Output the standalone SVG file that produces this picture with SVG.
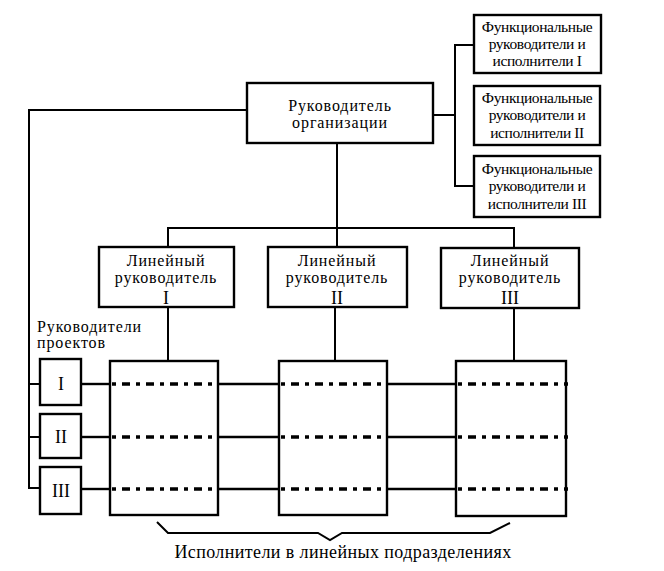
<svg xmlns="http://www.w3.org/2000/svg" width="664" height="571" viewBox="0 0 664 571">
<style>
  .box { fill: #fff; stroke: #000; stroke-width: 2.4; }
  .ln { fill: none; stroke: #000; stroke-width: 2; }
  .row { fill: none; stroke: #000; stroke-width: 2.4; }
  .dd { fill: none; stroke: #000; stroke-width: 3.5; stroke-dasharray: 4 6 8 6; }
  text { font-family: "Liberation Serif", "Times New Roman", serif; font-size: 16px; fill: #000; }
  .c { text-anchor: middle; }
  .f { font-size: 15.5px; letter-spacing: -0.4px; }
  .w { letter-spacing: 0.9px; }
  .n { font-size: 18px; }
  .b { font-size: 18px; letter-spacing: 0.4px; }
</style>
<rect width="664" height="571" fill="#fff"/>

<g id="connectors">
  <polyline class="ln" points="247,110 29,110 29,488 40,488"/>
  <line class="ln" x1="29" y1="384" x2="40" y2="384"/>
  <line class="ln" x1="29" y1="437" x2="40" y2="437"/>
  <polyline class="ln" points="433,115 455,115"/>
  <polyline class="ln" points="474,45 455,45 455,186 474,186"/>
  <line class="ln" x1="337" y1="143" x2="337" y2="247"/>
  <polyline class="ln" points="168,247 168,228 514,228 514,248"/>
  <line class="ln" x1="168" y1="307" x2="168" y2="361"/>
  <line class="ln" x1="335" y1="307" x2="335" y2="361"/>
  <line class="ln" x1="514" y1="308" x2="514" y2="361"/>
  <g class="row">
    <line x1="81" y1="384" x2="110" y2="384"/>
    <line x1="218" y1="384" x2="279" y2="384"/>
    <line x1="387" y1="384" x2="456" y2="384"/>
    <line x1="81" y1="437" x2="110" y2="437"/>
    <line x1="218" y1="437" x2="279" y2="437"/>
    <line x1="387" y1="437" x2="456" y2="437"/>
    <line x1="81" y1="489" x2="110" y2="489"/>
    <line x1="218" y1="489" x2="279" y2="489"/>
    <line x1="387" y1="489" x2="456" y2="489"/>
  </g>
  <polyline class="ln" points="157,522 168,533 318,533 330,540 342,533 490,533 510,523"/>
</g>

<g id="org-head">
  <rect class="box" x="247" y="83" width="186" height="60"/>
  <text class="c w" x="340" y="111">Руководитель</text>
  <text class="c w" x="340" y="128">организации</text>
</g>

<g id="func-1">
  <rect class="box" x="474" y="15" width="127" height="58"/>
  <text class="c f" x="537" y="32">Функциональные</text>
  <text class="c f" x="537" y="49">руководители и</text>
  <text class="c f" x="537" y="66">исполнители I</text>
</g>
<g id="func-2">
  <rect class="box" x="474" y="86" width="126" height="59"/>
  <text class="c f" x="537" y="103">Функциональные</text>
  <text class="c f" x="537" y="120">руководители и</text>
  <text class="c f" x="537" y="138">исполнители II</text>
</g>
<g id="func-3">
  <rect class="box" x="474" y="156" width="126" height="61"/>
  <text class="c f" x="537" y="174">Функциональные</text>
  <text class="c f" x="537" y="191">руководители и</text>
  <text class="c f" x="537" y="209">исполнители III</text>
</g>

<g id="line-1">
  <rect class="box" x="99" y="247" width="135" height="60"/>
  <text class="c w" x="166" y="266">Линейный</text>
  <text class="c w" x="166" y="283">руководитель</text>
  <text class="c n" x="166" y="304">I</text>
</g>
<g id="line-2">
  <rect class="box" x="268" y="247" width="139" height="60"/>
  <text class="c w" x="337" y="266">Линейный</text>
  <text class="c w" x="337" y="283">руководитель</text>
  <text class="c n" x="337" y="304">II</text>
</g>
<g id="line-3">
  <rect class="box" x="441" y="248" width="138" height="60"/>
  <text class="c w" x="510" y="266">Линейный</text>
  <text class="c w" x="510" y="283">руководитель</text>
  <text class="c n" x="510" y="304">III</text>
</g>

<g id="project-label">
  <text class="w" x="37" y="332">Руководители</text>
  <text class="w" x="37" y="348">проектов</text>
</g>
<g id="project-1">
  <rect class="box" x="40" y="359" width="41" height="46"/>
  <text class="c n" x="61" y="390">I</text>
</g>
<g id="project-2">
  <rect class="box" x="40" y="414" width="41" height="44"/>
  <text class="c n" x="61" y="443">II</text>
</g>
<g id="project-3">
  <rect class="box" x="40" y="467" width="41" height="47"/>
  <text class="c n" x="61" y="497">III</text>
</g>

<g id="column-1">
  <rect class="box" x="110" y="361" width="108" height="154"/>
  <line class="dd" x1="112" y1="384" x2="218" y2="384"/>
  <line class="dd" x1="112" y1="437" x2="218" y2="437"/>
  <line class="dd" x1="112" y1="489" x2="218" y2="489"/>
</g>
<g id="column-2">
  <rect class="box" x="279" y="361" width="108" height="154"/>
  <line class="dd" x1="281" y1="384" x2="387" y2="384"/>
  <line class="dd" x1="281" y1="437" x2="387" y2="437"/>
  <line class="dd" x1="281" y1="489" x2="387" y2="489"/>
</g>
<g id="column-3">
  <rect class="box" x="456" y="361" width="110" height="155"/>
  <line class="dd" x1="458" y1="384" x2="568" y2="384"/>
  <line class="dd" x1="458" y1="437" x2="568" y2="437"/>
  <line class="dd" x1="458" y1="489" x2="568" y2="489"/>
</g>

<g id="executors-label">
  <text class="c b" x="343" y="558">Исполнители в линейных подразделениях</text>
</g>
</svg>
